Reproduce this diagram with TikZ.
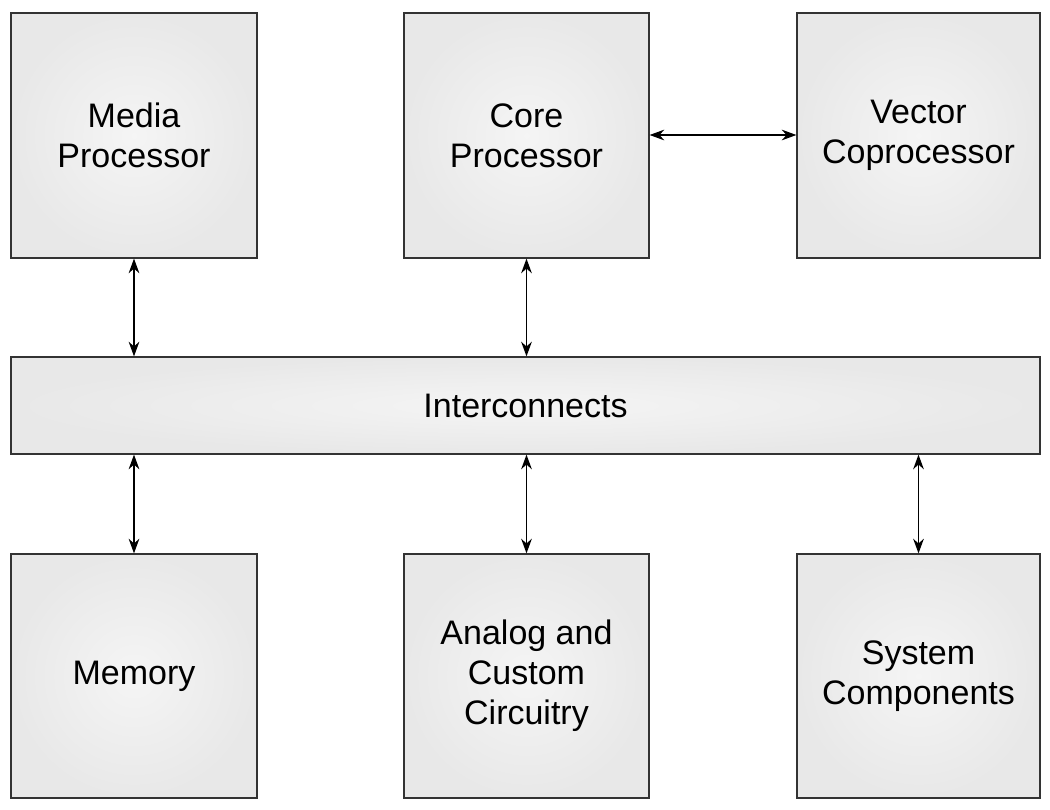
\documentclass[tikz,border=0pt]{standalone}
\usepackage{fontspec}
\setmainfont{Liberation Sans}
\usetikzlibrary{arrows.meta}
\begin{document}
\begin{tikzpicture}[x=0.75pt,y=-0.75pt,
  box/.style={draw=black!80,line width=0.9pt,inner color=gray!8,outer color=gray!18,align=center,font=\fontsize{25.5}{30}\selectfont,inner sep=0pt},
  link/.style={{Stealth[length=11pt,width=8pt]}-{Stealth[length=11pt,width=8pt]},line width=1.1pt}]
\useasboundingbox (0,0) rectangle (1050,810);
\fill[white] (0,0) rectangle (1050,810);
\newcommand{\mybox}[6]{\node[box,minimum width=#3*0.75pt,minimum height=#4*0.75pt] (#5) at (#1,#2) {#6};}
\mybox{134}{135.5}{246}{245}{media}{Media\\Processor}
\mybox{526.5}{135.5}{245}{245}{core}{Core\\Processor}
\mybox{918.5}{135.5}{243}{245}{vector}{Vector\\Coprocessor\vphantom{g}}
\mybox{525.5}{405.5}{1029}{97}{inter}{Interconnects}
\mybox{134}{676}{246}{244}{mem}{Memory}
\mybox{526.5}{676}{245}{244}{analog}{Analog and\\Custom\\Circuitry}
\mybox{918.5}{676}{243}{244}{sys}{System\\Components}
\draw[link] (core.east|-0,135) -- (vector.west|-0,135);
\draw[link] (media.south) -- (media.south|-inter.north);
\draw[link] (core.south) -- (core.south|-inter.north);
\draw[link] (mem.north|-inter.south) -- (mem.north);
\draw[link] (analog.north|-inter.south) -- (analog.north);
\draw[link] (sys.north|-inter.south) -- (sys.north);
\end{tikzpicture}
\end{document}
